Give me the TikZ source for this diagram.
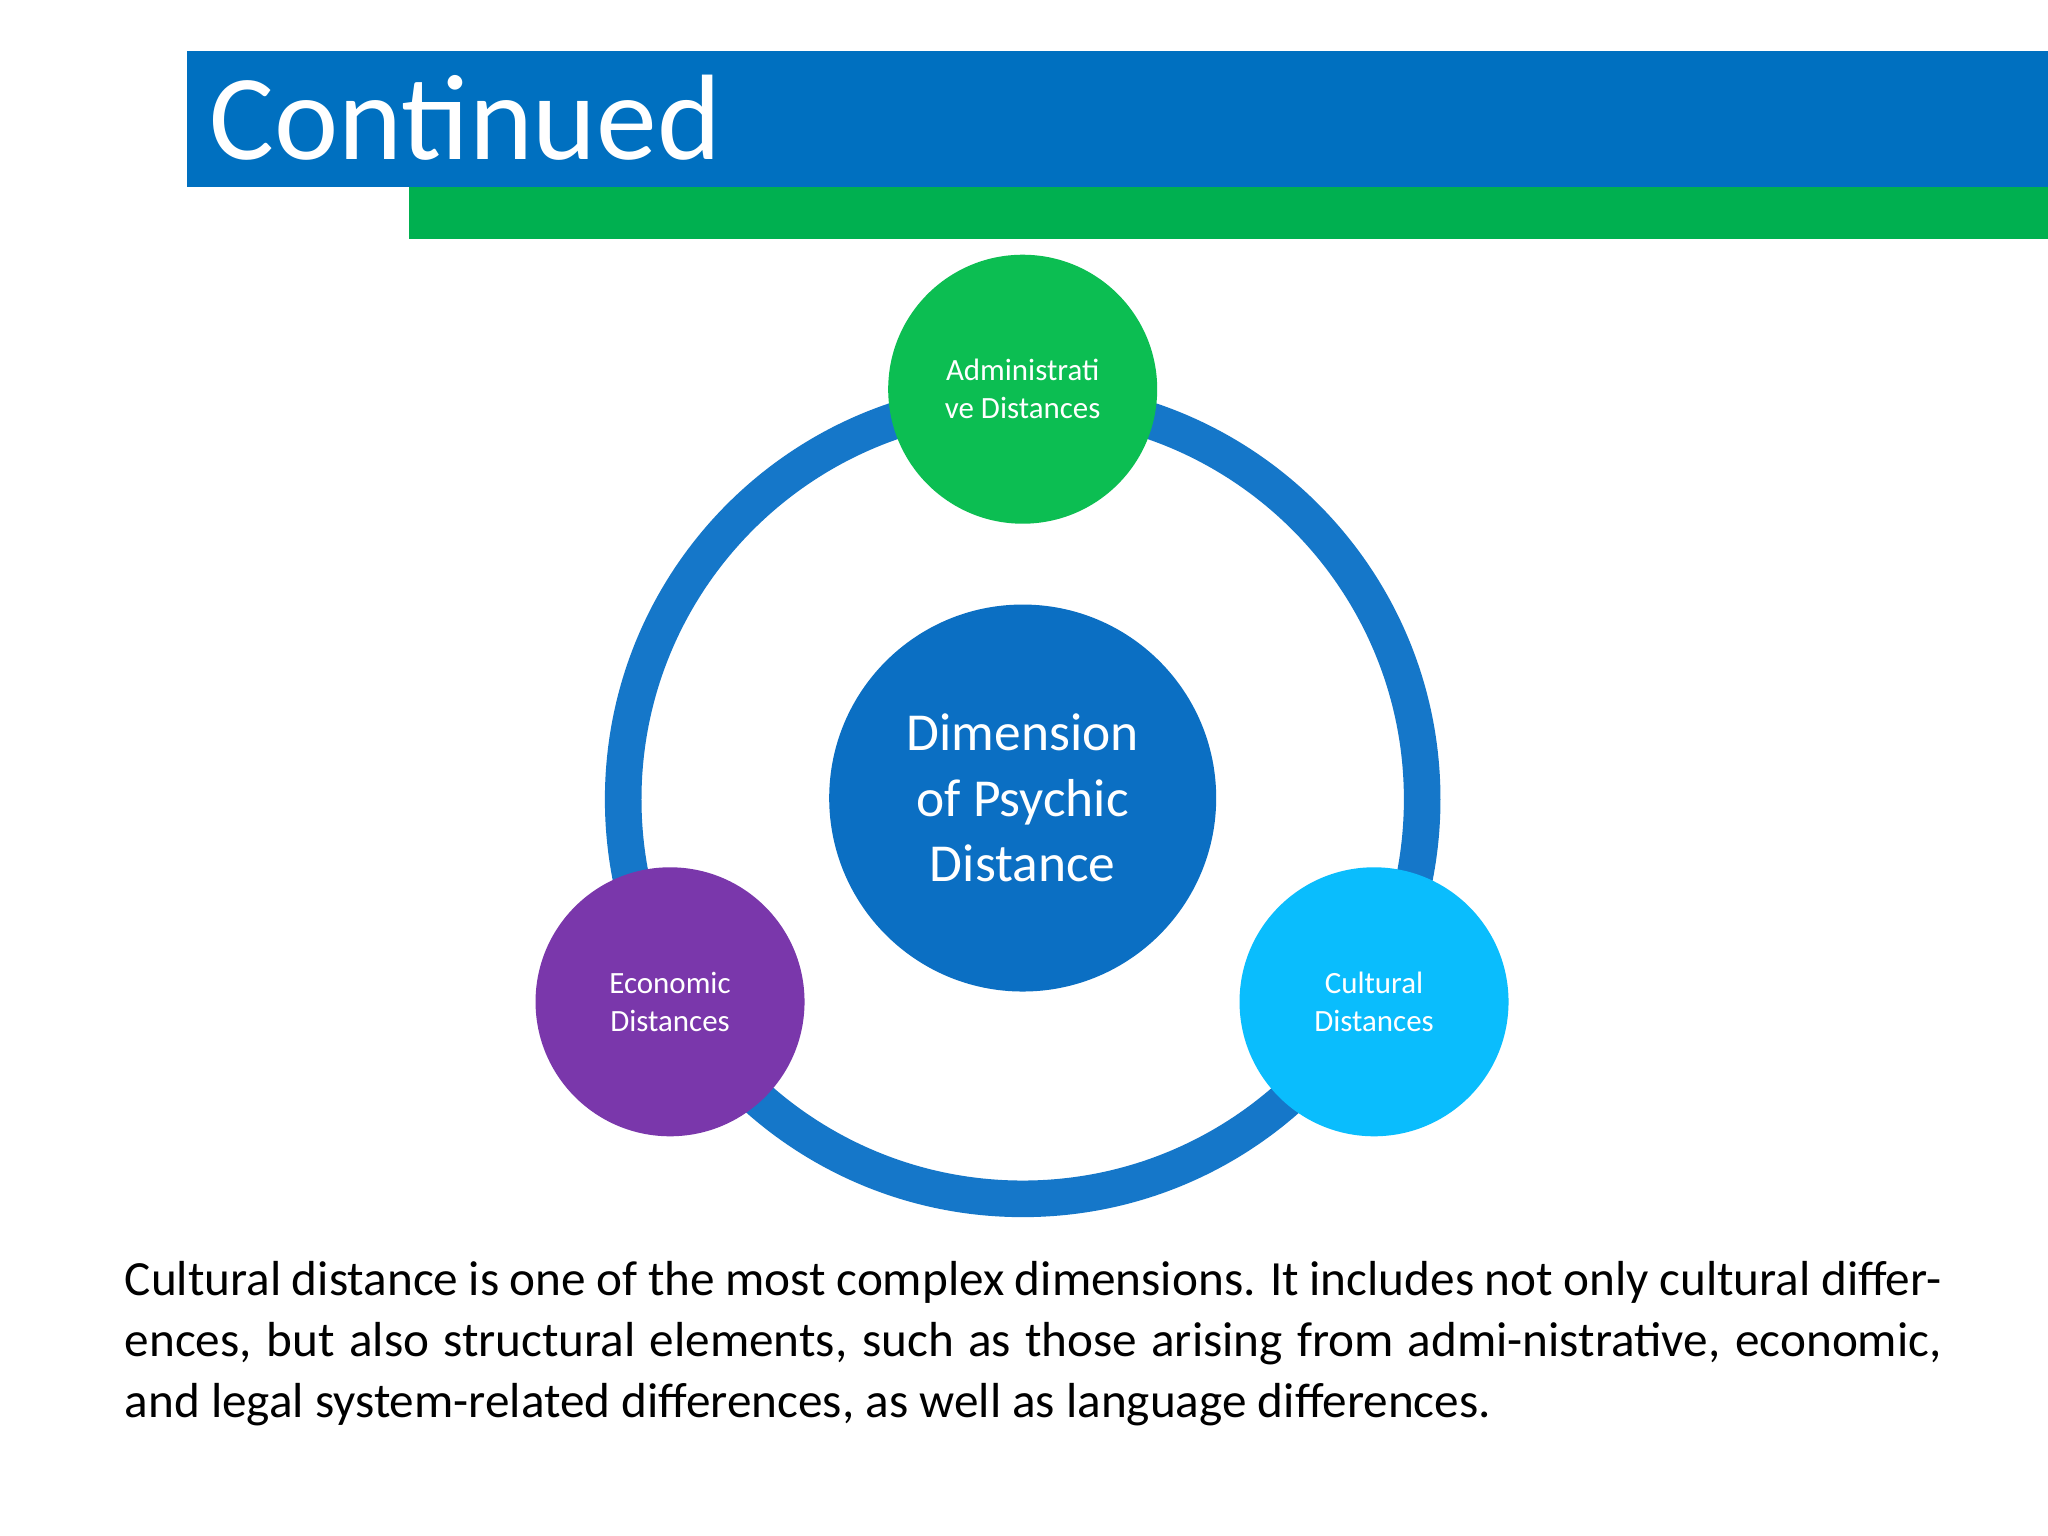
\documentclass[tikz,border=0pt]{standalone}
\usepackage{fontspec}
\setmainfont{Carlito}
\definecolor{hdrblue}{HTML}{0070C0}
\definecolor{hdrgreen}{HTML}{00B050}
\definecolor{ringblue}{HTML}{1577C9}
\definecolor{cgreen}{HTML}{0CBE52}
\definecolor{cblue}{HTML}{0B6FC3}
\definecolor{cpurple}{HTML}{7A37AB}
\definecolor{ccyan}{HTML}{0ABDFD}
\begin{document}
\begin{tikzpicture}[x=0.01306cm,y=-0.01306cm,
  small/.style={circle,minimum size=206\pgflinewidth*0+2.69cm,inner sep=0pt,text=white,align=center,font=\fontsize{8.8}{10.8}\selectfont},
]
\useasboundingbox (0,0) rectangle (1568,1176);
\fill[white] (0,0) rectangle (1568,1176);
\fill[hdrblue] (143,39) rectangle (1568,143);
\fill[hdrgreen] (313,143) rectangle (1568,183);
\node[anchor=base west,text=white,inner sep=0pt,font=\fontsize{34.6}{40}\selectfont] (title) at (160,122) {Continued};
\node[circle,draw=ringblue,line width=0.366cm,minimum size=7.99cm,inner sep=0pt] (ring) at (783,612) {};
\node[circle,fill=cblue,minimum size=3.87cm,inner sep=0pt,text=white,align=center,font=\fontsize{15.2}{18.6}\selectfont] (center) at (783,611) {Dimension\\of Psychic\\Distance};
\node[small,fill=cgreen] (adm) at (783,298) {Administrati\\ve Distances};
\node[small,fill=cpurple] (eco) at (513,767) {Economic\\Distances};
\node[small,fill=ccyan] (cul) at (1052,767) {Cultural\\Distances};
\node[anchor=north west,inner sep=0pt,text width=18.17cm,align=justify,font=\fontsize{14}{17.35}\selectfont] (para) at (95,965) {Cultural distance is one of the most complex dimensions. It includes not only cultural differences, but also structural elements, such as those arising from admi-nistrative, economic, and legal system-related differences, as well as language differences.};
\end{tikzpicture}
\end{document}
